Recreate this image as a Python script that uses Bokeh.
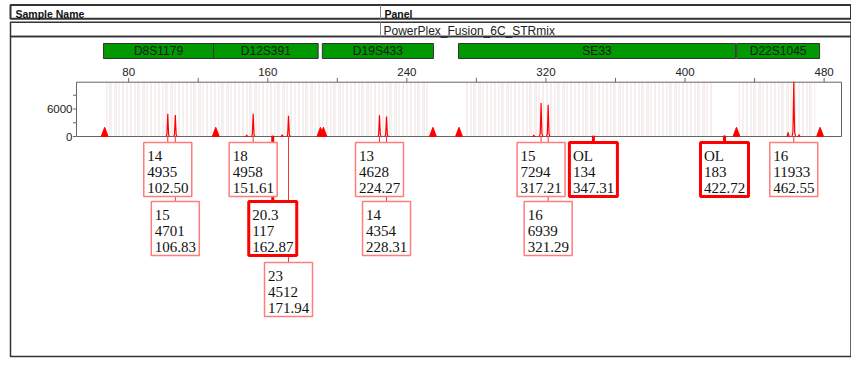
from bokeh.plotting import figure
from bokeh.models import Range1d, ColumnDataSource
from bokeh.core.properties import value
from bokeh.embed import file_html
from bokeh.resources import INLINE

# ---------------- data ----------------
header_labels = ["Sample Name", "Panel"]
panel_name = "PowerPlex_Fusion_6C_STRmix"

marker_names = ["D8S1179", "D12S391", "D19S433", "SE33", "D22S1045"]
marker_start = [65.5, 128.8, 191.4, 269.7, 429.7]
marker_end = [128.8, 189.0, 255.3, 429.1, 477.4]

bin_region_start = [67.0, 273.0, 431.0]
bin_region_end = [253.0, 416.0, 475.0]

size_ticks = [80, 120, 160, 200, 240, 280, 320, 360, 400, 440, 480]
size_label_values = [80, 160, 240, 320, 400, 480]
size_labels = ["80", "160", "240", "320", "400", "480"]
rfu_ticks = [0, 3000, 6000, 9000]
rfu_label_values = [0, 6000]
rfu_labels = ["0", "6000"]

allele_names = ["14", "15", "18", "20.3", "23", "13", "14", "15", "16", "OL", "OL", "16"]
allele_heights = [4935, 4701, 4958, 117, 4512, 4628, 4354, 7294, 6939, 134, 183, 11933]
allele_sizes = [102.50, 106.83, 151.61, 162.87, 171.94, 224.27, 228.31, 317.21, 321.29, 347.31, 422.72, 462.55]
allele_rows = [0, 1, 0, 1, 2, 0, 1, 0, 1, 0, 0, 0]
allele_flagged = [False, False, False, True, False, False, False, False, False, True, True, False]

minor_sizes = [147.9, 168.3, 313.0, 459.3, 465.6]
minor_heights = [300, 350, 300, 900, 400]

edge_peak_sizes = [66.2, 130.1, 190.3, 192.0, 255.0, 270.0, 429.6, 477.7]

# ---------------- layout (picture pixels) ----------------
W, H = 851, 358
ORIGIN = 0
FRAME_L, FRAME_R, FRAME_T, FRAME_B = 76.0, 841.0, 81.7, 136.0
SIZE_MIN, SIZE_MAX = 50.0, 490.0
RFU_MAX = 11850.0
ROW_TOPS = [142.0, 201.0, 262.0]
BOX_H = 54.0
BOX_HALF_PX = 24.0
LINE_OFFS = [13.0, 29.5, 45.5]
TRI_HALF = 2.0
TRI_H = 2000.0
PEAK_DX = [-1.0, -0.5, -0.25, 0.0, 0.25, 0.5, 1.0]
PEAK_SHAPE = [0.0, 0.08, 0.5, 1.0, 0.5, 0.08, 0.0]
BOX_L, BOX_R = 10.0, 850.5

SANS = value("Liberation Sans")
SERIF = value("Liberation Serif")
DARK = "#333333"

p = figure(width=W, height=H,
           x_range=Range1d(ORIGIN, ORIGIN + W),
           y_range=Range1d(ORIGIN + H, ORIGIN),
           output_backend="svg", toolbar_location=None,
           x_axis_location=None, y_axis_location=None,
           min_border=0)
p.xgrid.visible = False
p.ygrid.visible = False
p.outline_line_color = None
p.background_fill_color = "white"
p.border_fill_color = "white"

bp_per_px = (SIZE_MAX - SIZE_MIN) / (FRAME_R - FRAME_L)
p.extra_x_ranges = {"bp": Range1d(SIZE_MIN - (FRAME_L - ORIGIN) * bp_per_px,
                                  SIZE_MAX + (ORIGIN + W - FRAME_R) * bp_per_px)}
rfu_per_px = RFU_MAX / (FRAME_B - FRAME_T)
p.extra_y_ranges = {"rfu": Range1d(-(ORIGIN + H - FRAME_B) * rfu_per_px,
                                   (FRAME_B - ORIGIN) * rfu_per_px)}

# ---------------- header ----------------
p.quad(left=[BOX_L], right=[BOX_R], top=[4.5], bottom=[18.3], fill_color=None, line_color=DARK, line_width=2)
p.quad(left=[BOX_L], right=[BOX_R], top=[21.7], bottom=[36], fill_color=None, line_color=DARK, line_width=1.5)
p.quad(left=[BOX_L], right=[BOX_R], top=[36], bottom=[356], fill_color=None, line_color=DARK, line_width=1.5)
p.segment(x0=[380, 380], x1=[380, 380], y0=[4.5, 21.7], y1=[18.3, 36], line_color="#888888", line_width=1)
p.text(x=[15, 384], y=[13.2, 13.2], text=header_labels, text_font=SANS, text_font_style="bold",
       text_font_size="10.5px", text_baseline="middle", text_align="left", text_color="#111111")
p.text(x=[383], y=[30.2], text=[panel_name], text_font=SANS, text_font_size="12px",
       text_baseline="middle", text_align="left", text_color="#222222")

# ---------------- marker bars ----------------
p.quad(left=marker_start, right=marker_end, top=43, bottom=58, x_range_name="bp",
       fill_color="#009900", line_color=DARK, line_width=1)
p.text(x=[(a + b) / 2 for a, b in zip(marker_start, marker_end)], y=[50.8] * len(marker_names),
       text=marker_names, x_range_name="bp", text_font=SANS, text_font_size="12px",
       text_align="center", text_baseline="middle", text_color="#1a1a1a")

# ---------------- bins ----------------
p.quad(left=bin_region_start, right=bin_region_end, bottom=0, top=RFU_MAX,
       x_range_name="bp", y_range_name="rfu", fill_color=None, line_color=None,
       hatch_pattern="vertical_line", hatch_color="#e6e6e6", hatch_scale=4, hatch_weight=1)
p.quad(left=bin_region_start, right=bin_region_end, bottom=0, top=RFU_MAX,
       x_range_name="bp", y_range_name="rfu", fill_color=None, line_color=None,
       hatch_pattern="vertical_line", hatch_color="#fde6e6", hatch_scale=7, hatch_weight=1)

# ---------------- frame + axes ----------------
p.quad(left=[SIZE_MIN], right=[SIZE_MAX], bottom=[0], top=[RFU_MAX], x_range_name="bp",
       y_range_name="rfu", fill_color=None, line_color="#666666", line_width=1)
p.segment(x0=size_ticks, x1=size_ticks, y0=FRAME_T, y1=FRAME_T - 4.3, x_range_name="bp",
          line_color="#666666", line_width=1)
p.text(x=size_label_values, y=71.0, text=size_labels, x_range_name="bp", text_font=SANS,
       text_font_size="11.5px", text_align="center", text_baseline="middle", text_color="#222222")
p.segment(x0=FRAME_L - 3.5, x1=FRAME_L, y0=rfu_ticks, y1=rfu_ticks, y_range_name="rfu",
          line_color="#666666", line_width=1)
p.text(x=FRAME_L - 4, y=rfu_label_values, text=rfu_labels, y_range_name="rfu", text_font=SANS,
       text_font_size="11.5px", text_align="right", text_baseline="middle", text_color="#222222")

# ---------------- edge (size-standard) triangles ----------------
p.patches(xs=[[s - TRI_HALF, s, s + TRI_HALF] for s in edge_peak_sizes],
          ys=[[0, TRI_H, 0] for _ in edge_peak_sizes],
          x_range_name="bp", y_range_name="rfu", fill_color="#ff0000", line_color="#ff0000")

# ---------------- trace ----------------
all_sizes = allele_sizes + minor_sizes
all_heights = allele_heights + minor_heights
p.multi_line(xs=[[s + d for d in PEAK_DX] for s in all_sizes],
             ys=[[h * f for f in PEAK_SHAPE] for h in all_heights],
             x_range_name="bp", y_range_name="rfu", line_color="#ff0000", line_width=1.2)

# ---------------- allele labels ----------------
box_half = BOX_HALF_PX * bp_per_px
tops = [ROW_TOPS[r] for r in allele_rows]
line_col = ["#ff0000" if f else "#ff3030" for f in allele_flagged]
line_w = [3 if f else 1 for f in allele_flagged]
box_col = ["#ff0000" if f else "#ff7d7d" for f in allele_flagged]
box_w = [3 if f else 1.5 for f in allele_flagged]

p.segment(source=ColumnDataSource(dict(x=allele_sizes, y0=[FRAME_B] * len(tops), y1=tops,
                                       c=line_col, w=line_w)),
          x0="x", x1="x", y0="y0", y1="y1", x_range_name="bp", line_color="c", line_width="w")

box_src = ColumnDataSource(dict(l=[s - box_half for s in allele_sizes],
                                r=[s + box_half for s in allele_sizes],
                                t=tops, b=[t + BOX_H for t in tops], c=box_col, w=box_w))
p.quad(source=box_src, left="l", right="r", top="t", bottom="b", x_range_name="bp",
       fill_color="white", line_color="c", line_width="w")

tx, ty, tt = [], [], []
for name, h, s, t in zip(allele_names, allele_heights, allele_sizes, tops):
    for off, txt in zip(LINE_OFFS, [name, str(h), "%.2f" % s]):
        tx.append(s - box_half)
        ty.append(t + off)
        tt.append(txt)
p.text(x=tx, y=ty, text=tt, x_range_name="bp", x_offset=3.5, text_font=SERIF,
       text_font_size="15px", text_align="left", text_baseline="middle", text_color="#111111")

open("out.html", "w").write(file_html(p, INLINE))
